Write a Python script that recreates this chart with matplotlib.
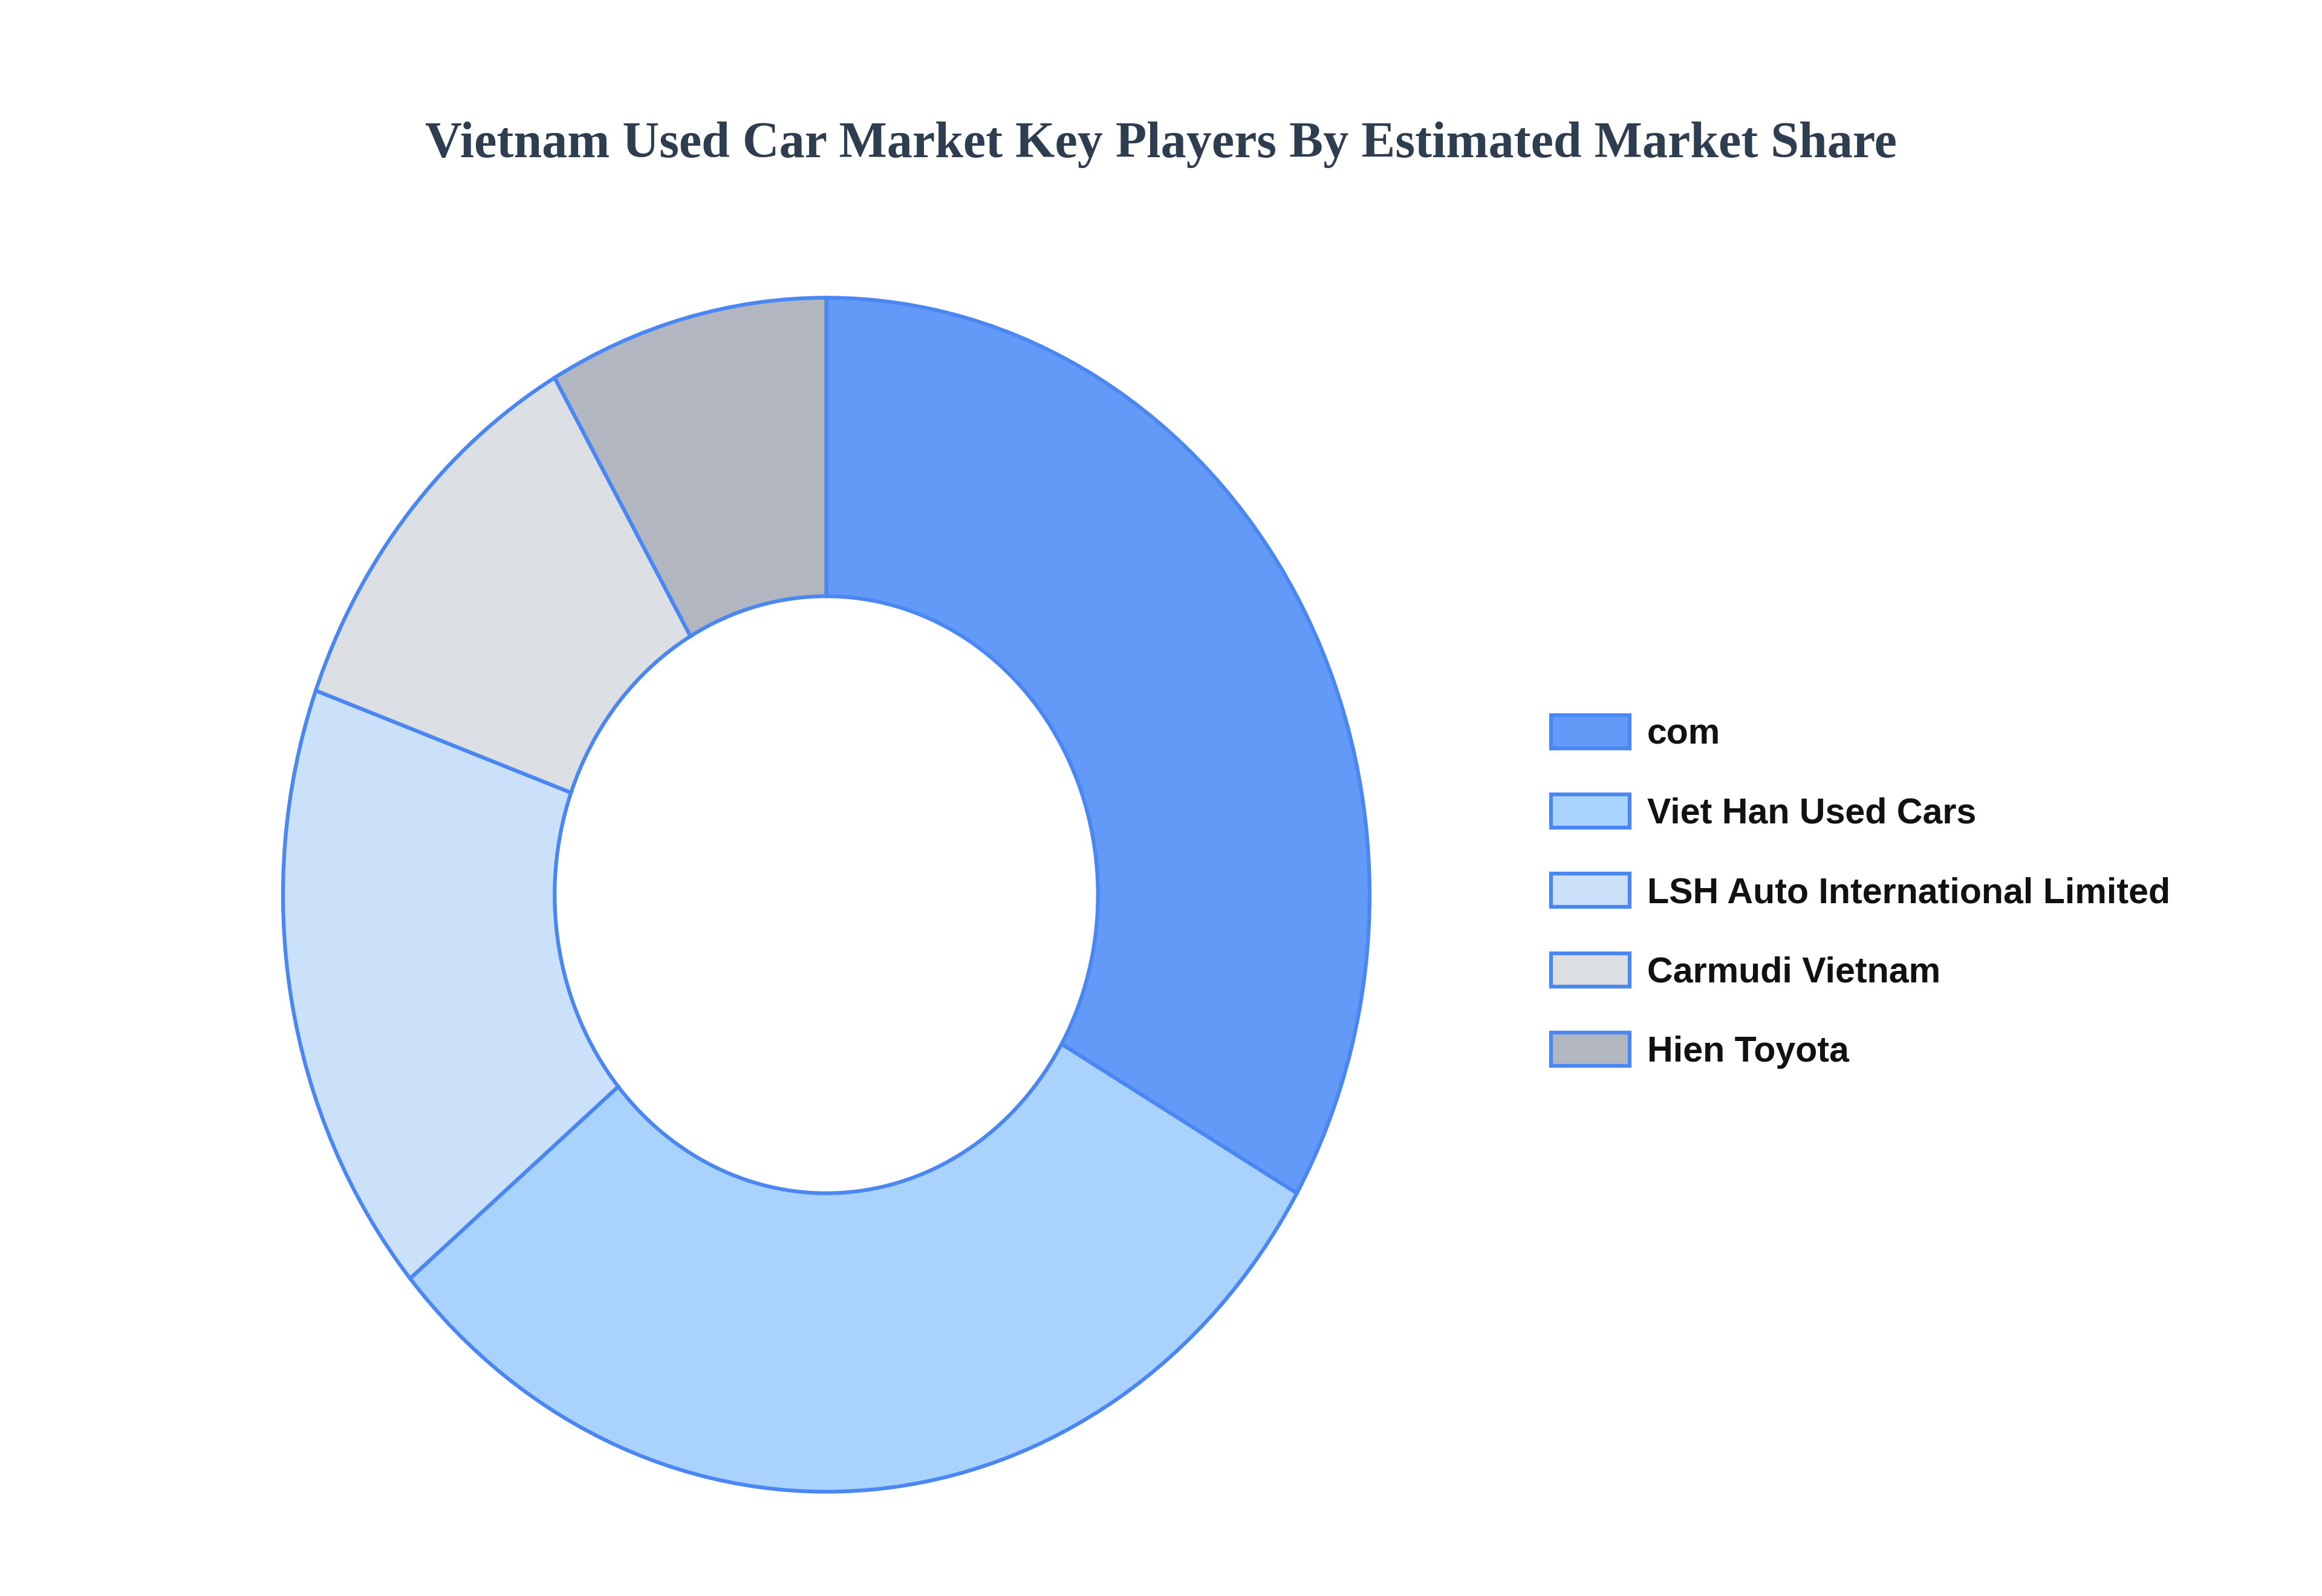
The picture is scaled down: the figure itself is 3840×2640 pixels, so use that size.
import matplotlib
matplotlib.use("Agg")
import matplotlib.pyplot as plt

# Data
players = ["com", "Viet Han Used Cars", "LSH Auto International Limited",
           "Carmudi Vietnam", "Hien Toyota"]
shares = [30, 27.5, 15, 10, 7.5]
colors = ["#639af7", "#a9d2fc", "#cbe1fa", "#dcdfe3", "#b1b6c1"]
edge_color = "#4a87f2"
title = "Vietnam Used Car Market Key Players By Estimated Market Share"

W, H = 3840, 2640
fig = plt.figure(figsize=(W / 100, H / 100), dpi=100)
fig.patch.set_facecolor("white")

# pie axes (elliptical, as in reference)
cx, cy_top, rx, ry = 1366.5, 1480, 898.5, 987.5
m = 1.05
ax_w = 2 * rx * m
ax_h = 2 * ry * m
left = cx - rx * m
bottom = (H - cy_top) - ry * m
ax = fig.add_axes([left / W, bottom / H, ax_w / W, ax_h / H])

wedges, _ = ax.pie(shares, colors=colors, startangle=90, counterclock=False,
                   radius=1.0,
                   wedgeprops=dict(width=0.5, edgecolor=edge_color, linewidth=4.5))
ax.set_aspect("auto")
ax.set_xlim(-m, m)
ax.set_ylim(-m, m)
ax.axis("off")

fig.text(0.5, 1 - 240 / H, title, ha="center", va="center",
         fontsize=60.6, fontweight="bold", family="Liberation Serif",
         color="#2e3e50")

leg = fig.legend(wedges, players, loc="upper left",
                 bbox_to_anchor=(2565 / W, 1 - 1183 / H),
                 frameon=False,
                 prop=dict(family="Liberation Sans", weight="bold", size=42.6),
                 handlelength=2.2, handleheight=1.05, handletextpad=0.49,
                 labelspacing=1.21, borderpad=0, borderaxespad=0)
for t in leg.get_texts():
    t.set_color("#111111")

fig.savefig("out.png", dpi=100, facecolor="white")
